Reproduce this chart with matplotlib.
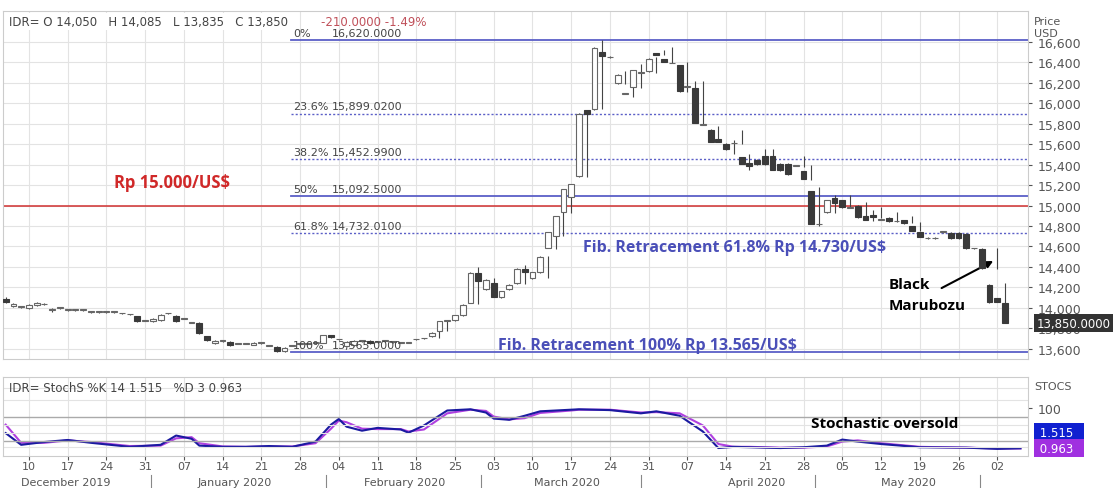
import matplotlib
matplotlib.use("Agg")
import matplotlib.pyplot as plt
import numpy as np
import pandas as pd

dates = pd.bdate_range("2019-12-05", "2020-06-05")
# (open, close) per trading day
oc = [(14085,14055),(14015,14040),(14010,14010),(14000,14030),(14030,14045),(14035,14035),(13980,13980),(14000,14000),
      (13980,13980),(13980,13980),(13980,13980),(13960,13960),(13960,13960),(13960,13960),(13960,13960),(13945,13945),
      (13935,13935),(13915,13870),(13875,13875),(13870,13895),(13880,13930),(13945,13945),(13920,13870),(13895,13895),
      (13855,13855),(13850,13750),(13720,13680),(13655,13675),(13675,13675),(13670,13635),(13650,13650),(13650,13650),
      (13640,13660),(13655,13655),(13630,13630),(13620,13575),(13575,13605),(13630,13630),(13645,13645),(13650,13650),
      (13655,13655),(13660,13730),(13730,13710),(13690,13690),(13630,13665),(13635,13675),(13675,13675),(13675,13655),
      (13665,13665),(13675,13675),(13665,13665),(13660,13660),(13660,13660),(13690,13690),(13700,13700),(13720,13755),
      (13775,13870),(13875,13875),(13880,13925),(13930,14030),(14050,14340),(14340,14260),(14185,14270),(14240,14105),
      (14105,14160),(14180,14225),(14240,14380),(14375,14350),(14290,14345),(14350,14500),(14580,14745),(14705,14900),
      (14935,15160),(15080,15210),(15285,15895),(15935,15895),(15945,16545),(16500,16465),(16450,16450),(16195,16275),
      (16090,16090),(16155,16325),(16295,16295),(16315,16435),(16495,16475),(16435,16400),(16390,16390),(16370,16120),
      (16160,16160),(16145,15805),(15790,15790),(15740,15625),(15650,15620),(15600,15550),(15610,15610),(15470,15405),
      (15415,15385),(15445,15405),(15485,15405),(15485,15350),(15405,15350),(15405,15310),(15390,15390),(15340,15260),
      (15140,14820),(14815,14815),(14935,15050),(15070,15025),(15050,14985),(14975,14975),(15000,14885),(14895,14855),
      (14910,14885),(14860,14860),(14875,14845),(14845,14845),(14855,14830),(14800,14755),(14745,14690),(14680,14680),
      (14680,14680),(14740,14740),(14735,14680),(14735,14680),(14725,14585),(14580,14580),(14575,14385),(14225,14055),
      (14095,14060),(14045,13850)]
# extra wick extremes (index: (high, low))
wicks = {0:(14110,14050),6:(14000,13960),56:(13780,13700),57:(13880,13770),61:(14400,14040),63:(14290,14180),
         67:(14420,14230),70:(14510,14290),71:(14820,14570),72:(15000,14700),73:(15170,14930),75:(15920,15280),
         77:(16620,15940),80:(16320,16190),81:(16190,16060),82:(16380,16150),84:(16450,16300),85:(16520,16470),
         86:(16550,16390),88:(16400,16110),89:(16220,16150),90:(16220,15800),92:(15780,15620),94:(15640,15500),
         95:(15740,15600),96:(15500,15350),98:(15550,15400),99:(15550,15400),103:(15480,15380),104:(15400,15250),
         105:(15180,14800),107:(15100,14930),109:(15100,14980),111:(15030,14880),112:(14960,14850),
         113:(14985,14880),115:(14935,14840),117:(14900,14825),118:(14840,14750),128:(14580,14380),
         129:(14240,14050),130:(14140,14040),131:(14090,13835)}
stoch_idx = [0,2,5,8,11,16,20,22,24,25,28,31,34,37,40,42,43,44,46,48,51,52,54,57,60,62,63,65,67,69,73,74,78,82,84,87,90,92,94,96,100,103,106,108,110,113,118,124,128,131]
stoch_k = [39,10,17,22,15,5,10,33,25,8,5,5,7,5,18,60,74,55,45,52,48,40,58,95,98,90,75,72,82,93,97,98,96,88,93,82,43,2,5,4,2,4,8,23,18,12,4,3,0,1.5]
stoch_d = [60,15,15,21,17,7,8,26,29,14,6,5,6,6,14,50,70,66,50,49,49,43,48,88,97,94,80,73,76,89,95,97,97,90,91,88,58,12,5,5,3,3,6,18,21,14,5,3,1,1]
tick_labels = ["10","17","24","31","07","14","21","28","04","11","18","25","03","10","17","24","31","07","14","21","28","05","12","19","26","02"]
months = ["December 2019","January 2020","February 2020","March 2020","April 2020","May 2020"]
fib_pct = ["0%","23.6%","38.2%","50%","61.8%","100%"]
fib_val = [16620.0,15899.02,15452.99,15092.5,14732.01,13565.0]

n = len(oc)
ticks = [i for i, d in enumerate(dates[:n]) if d.weekday() == 1]

fig = plt.figure(figsize=(11.14, 4.89), dpi=100)
ax = fig.add_axes([0.003, 0.264, 0.920, 0.711])
ax2 = fig.add_axes([0.003, 0.066, 0.920, 0.161])
BLUE = "#5b5fc7"
for a in (ax, ax2):
    a.set_xlim(-0.3, 132)
    for s in a.spines.values():
        s.set_color("#cccccc")
    a.set_xticks(ticks[:len(tick_labels)])
    a.grid(axis="x", color="#e3e3e3", lw=0.8)
    a.yaxis.tick_right()
    a.tick_params(colors="#555555", labelsize=9, length=3)

for i, (o, c) in enumerate(oc):
    hi, lo = wicks.get(i, (max(o, c) + 8, min(o, c) - 8))
    ax.vlines(i, lo, hi, color="#444444", lw=0.8, zorder=3)
    b = max(abs(c - o), 6)
    if c >= o:
        ax.bar(i, b, bottom=min(o, c), width=0.75, facecolor="white", edgecolor="#666666", lw=0.8, zorder=4)
    else:
        ax.bar(i, b, bottom=min(o, c), width=0.75, facecolor="#3a3a3a", edgecolor="#3a3a3a", lw=0.8, zorder=4)

ax.set_ylim(13500, 16900)
ax.set_yticks(np.arange(13600, 16700, 200))
ax.set_yticklabels([f"{v:,}" for v in range(13600, 16700, 200)])
ax.grid(axis="y", color="#e3e3e3", lw=0.8)
ax.set_xticklabels([])
ax.tick_params(axis="x", length=0)

fx0 = 36.8
for p, v in zip(fib_pct, fib_val):
    solid = p in ("0%", "50%", "100%")
    ax.plot([fx0, 132], [v, v], color=BLUE, lw=1.3 if solid else 1.0, ls="-" if solid else (0, (1.5, 1.5)), zorder=2)
    ax.text(fx0 + 0.3, v + 40, p, fontsize=8, color="#444444", zorder=5)
    ax.text(fx0 + 5.3, v + 40, f"{v:,.4f}", fontsize=8, color="#444444", zorder=5)
ax.axhline(15000, color="#d03030", lw=1.1, zorder=2)
ax.text(14, 15180, "Rp 15.000/US$", color="#d02828", fontsize=12, fontweight="bold", family="Open Sans")
ax.text(74.5, 14560, "Fib. Retracement 61.8% Rp 14.730/US$", color="#4a4fb8", fontsize=11.5, fontweight="bold", family="Open Sans")
ax.text(63.5, 13600, "Fib. Retracement 100% Rp 13.565/US$", color="#4a4fb8", fontsize=11.5, fontweight="bold", family="Open Sans")
ax.text(114, 14236, "Black", fontsize=11, fontweight="bold", family="Open Sans", va="center")
ax.text(114, 14030, "Marubozu", fontsize=11, fontweight="bold", family="Open Sans", va="center")
ax.annotate("", xy=(127.8, 14470), xytext=(120.5, 14180), arrowprops=dict(arrowstyle="-|>", color="black", lw=1.5))
ax.text(1.006, 0.985, "Price\nUSD", transform=ax.transAxes, fontsize=8, color="#555555", va="top")
ax.text(1.008, oc[-1][1], "13,850.0000", transform=ax.get_yaxis_transform(), fontsize=8.5, color="white", va="center",
        bbox=dict(facecolor="#333333", edgecolor="none", pad=2), zorder=10)
ax.text(0.006, 0.99, "IDR= O 14,050   H 14,085   L 13,835   C 13,850", transform=ax.transAxes, fontsize=8.5, color="#444444", va="top",
        bbox=dict(facecolor="white", edgecolor="none", pad=1.5))
ax.text(0.31, 0.99, "-210.0000 -1.49%", transform=ax.transAxes, fontsize=8.5, color="#c0505a", va="top")

ax2.plot(stoch_idx, stoch_d, color="#b040e0", lw=1.5)
ax2.plot(stoch_idx, stoch_k, color="#1a1aa0", lw=1.5)
ax2.set_ylim(-17, 178)
ax2.set_yticks([100])
for v in (20, 80):
    ax2.axhline(v, color="#aaaaaa", lw=1.0)
for v in (5, 40, 60, 120, 150):
    ax2.axhline(v, color="#e3e3e3", lw=0.8)
ax2.set_xticklabels(tick_labels, fontsize=8, color="#555555")
ax2.tick_params(axis="x", pad=1)
ax2.text(0.006, 0.95, "IDR= StochS %K 14 1.515   %D 3 0.963", transform=ax2.transAxes, fontsize=8.5, color="#444444", va="top")
ax2.text(1.006, 0.95, "STOCS", transform=ax2.transAxes, fontsize=8, color="#555555", va="top")
ax2.text(104, 55, "Stochastic oversold", fontsize=11, fontweight="bold", family="Open Sans")
ax2.text(1.008, 40, " 1.515  ", transform=ax2.get_yaxis_transform(), fontsize=8.5, color="white", va="center",
         bbox=dict(facecolor="#1020d0", edgecolor="none", pad=2))
ax2.text(1.008, 2, " 0.963  ", transform=ax2.get_yaxis_transform(), fontsize=8.5, color="white", va="center",
         bbox=dict(facecolor="#a030e0", edgecolor="none", pad=2))

month_pos = [7.8, 29.5, 51.5, 72.5, 97, 116.5]
for m, p in zip(months, month_pos):
    ax2.text(p, -0.335, m, transform=ax2.get_xaxis_transform(), fontsize=8, color="#555555", ha="center", va="center")
for sep in [18.8, 41.3, 61.3, 82, 104.5, 125.8]:
    ax2.plot([sep, sep], [-0.24, -0.4], transform=ax2.get_xaxis_transform(), color="#888888", lw=0.8, clip_on=False)

fig.savefig("out.png", dpi=100)
